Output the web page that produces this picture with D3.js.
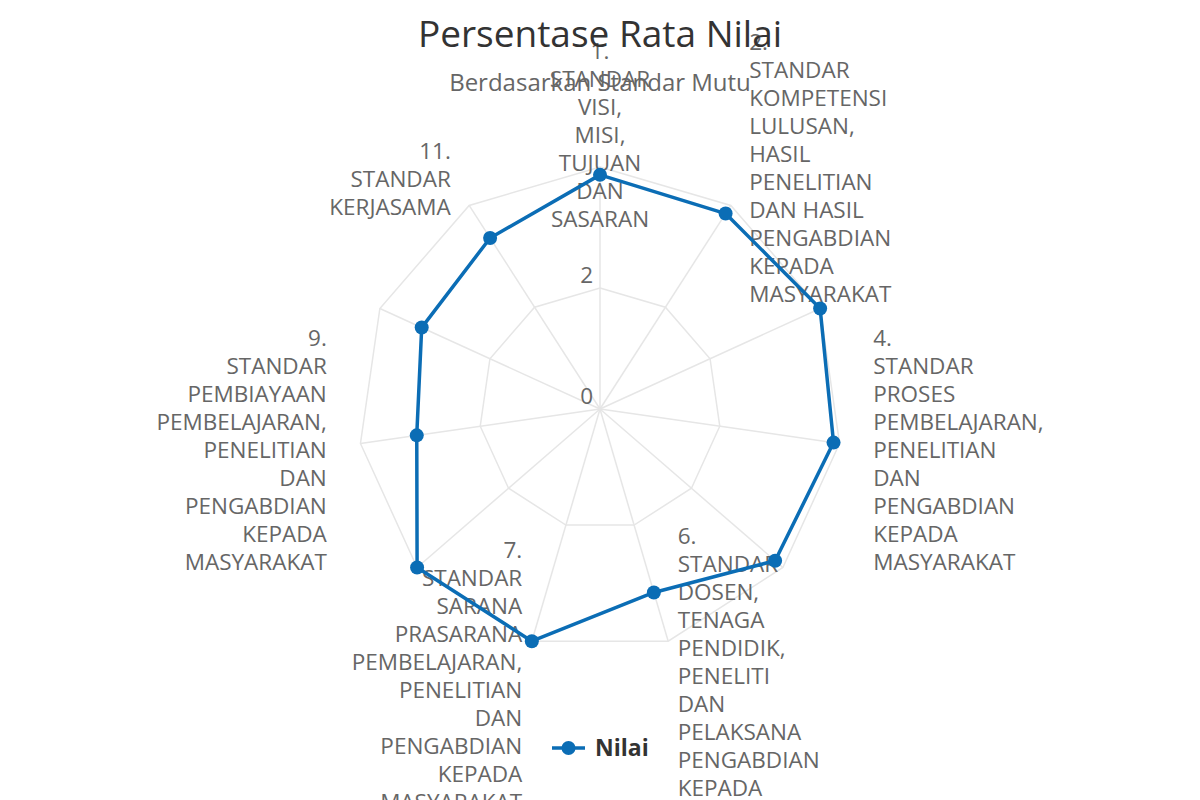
<!DOCTYPE html>
<html>
<head>
<meta charset="utf-8">
<script src="https://cdn.jsdelivr.net/npm/d3@7"></script>
<style>
  body { margin: 0; background: #fff; }
  text { font-family: "Open Sans", sans-serif; }
</style>
</head>
<body>
<script>
// chart data
var categories = [
  "1. STANDAR VISI, MISI, TUJUAN DAN SASARAN",
  "2. STANDAR KOMPETENSI LULUSAN, HASIL PENELITIAN DAN HASIL PENGABDIAN KEPADA MASYARAKAT",
  "3. STANDAR ISI PEMBELAJARAN, PENELITIAN DAN PENGABDIAN KEPADA MASYARAKAT",
  "4. STANDAR PROSES PEMBELAJARAN, PENELITIAN DAN PENGABDIAN KEPADA MASYARAKAT",
  "5. STANDAR PENILAIAN PEMBELAJARAN, PENELITIAN DAN PENGABDIAN KEPADA MASYARAKAT",
  "6. STANDAR DOSEN, TENAGA PENDIDIK, PENELITI DAN PELAKSANA PENGABDIAN KEPADA MASYARAKAT",
  "7. STANDAR SARANA PRASARANA PEMBELAJARAN, PENELITIAN DAN PENGABDIAN KEPADA MASYARAKAT",
  "8. STANDAR PENGELOLAAN PEMBELAJARAN, PENELITIAN DAN PENGABDIAN KEPADA MASYARAKAT",
  "9. STANDAR PEMBIAYAAN PEMBELAJARAN, PENELITIAN DAN PENGABDIAN KEPADA MASYARAKAT",
  "10. STANDAR TATA KELOLA",
  "11. STANDAR KERJASAMA"
];
var nilai = [3.87, 3.84, 4.0, 3.9, 3.83, 3.16, 4.0, 4.0, 3.06, 3.24, 3.36];
var yTicks = [0, 2];
var yMax = 4;
var seriesName = "Nilai";
var titleText = "Persentase Rata Nilai";
var subtitleText = "Berdasarkan Standar Mutu";

var width = 1200, height = 800;
var cx = 600, cy = 409, radius = 242;
var color = "#0b6db5";

var svg = d3.select("body").append("svg").attr("width", width).attr("height", height);

var r = d3.scaleLinear().domain([0, yMax]).range([0, radius]);
var angle = d3.scaleLinear().domain([0, categories.length]).range([0, 2 * Math.PI]);

var g = svg.append("g").attr("transform", "translate(" + cx + "," + cy + ")");

function px(i, v) { return r(v) * Math.sin(angle(i)); }
function py(i, v) { return -r(v) * Math.cos(angle(i)); }

// grid polygons
var rings = yTicks.filter(function(t){ return t > 0; }).concat([yMax]);
g.selectAll(".ring").data(rings).enter().append("path")
  .attr("d", function(t){
    return d3.lineRadial().angle(function(d, i){ return angle(i); }).radius(r(t)).curve(d3.curveLinearClosed)(categories);
  })
  .attr("fill", "none").attr("stroke", "#e6e6e6").attr("stroke-width", 1.5);

// spokes
g.selectAll(".spoke").data(categories).enter().append("line")
  .attr("x1", 0).attr("y1", 0)
  .attr("x2", function(d, i){ return px(i, yMax); })
  .attr("y2", function(d, i){ return py(i, yMax); })
  .attr("stroke", "#e6e6e6").attr("stroke-width", 1.5);

// y axis labels
g.selectAll(".ylab").data(yTicks).enter().append("text")
  .attr("x", -7).attr("y", function(t){ return -r(t) - 5; })
  .attr("text-anchor", "end").attr("font-size", 22.5).attr("fill", "#666")
  .text(function(t){ return t; });

// category labels
var labelDist = 34, lineH = 28;
var labelDy = [0, -11, 0, 0, 0, 0, 0, 0, 0, 0, 0];
var shown = [];
categories.forEach(function(name, i){
  var a = angle(i), s = Math.sin(a);
  var ax = (radius + labelDist) * s, ay = -(radius + labelDist) * Math.cos(a);
  var anchor = Math.abs(s) < 0.05 ? "middle" : (s > 0 ? "start" : "end");
  var wrapW = Math.abs(s) < 0.1 ? 90 : 118;
  var t = g.append("text").attr("font-size", 22.5).attr("fill", "#666").attr("text-anchor", anchor);
  var words = name.split(" "), lines = [], cur = "";
  var probe = t.append("tspan");
  words.forEach(function(w){
    var test = cur ? cur + " " + w : w;
    probe.text(test);
    if (cur && probe.node().getComputedTextLength() > wrapW) { lines.push(cur); cur = w; }
    else cur = test;
  });
  lines.push(cur);
  probe.remove();
  var top = ay - lines.length * lineH / 2 + labelDy[i];
  lines.forEach(function(l, k){
    t.append("tspan").attr("x", ax).attr("y", top + 24 + k * lineH).text(l);
  });
  var b = t.node().getBBox();
  var hit = shown.some(function(o){
    return b.x < o.x + o.width && o.x < b.x + b.width && b.y < o.y + o.height && o.y < b.y + b.height;
  });
  if (hit) t.remove(); else shown.push(b);
});

// series
var line = d3.lineRadial()
  .angle(function(d, i){ return angle(i); })
  .radius(function(d){ return r(d); })
  .curve(d3.curveLinearClosed);
g.append("path").attr("d", line(nilai))
  .attr("fill", "none").attr("stroke", color).attr("stroke-width", 3.5).attr("stroke-linejoin", "round");
g.selectAll(".pt").data(nilai).enter().append("circle")
  .attr("cx", function(d, i){ return px(i, d); })
  .attr("cy", function(d, i){ return py(i, d); })
  .attr("r", 7).attr("fill", color);

// title
svg.append("text").attr("x", 600).attr("y", 47).attr("text-anchor", "middle")
  .attr("font-size", 37).attr("fill", "#333").text(titleText);
svg.append("text").attr("x", 600).attr("y", 91).attr("text-anchor", "middle")
  .attr("font-size", 24).attr("fill", "#666").text(subtitleText);

// legend
var lg = svg.append("g").attr("transform", "translate(552,748)");
lg.append("line").attr("x1", 0).attr("x2", 33).attr("y1", 0).attr("y2", 0)
  .attr("stroke", color).attr("stroke-width", 3.5);
lg.append("circle").attr("cx", 16.5).attr("cy", 0).attr("r", 7).attr("fill", color);
lg.append("text").attr("x", 43).attr("y", 8).attr("font-size", 23).attr("font-weight", "bold")
  .attr("fill", "#333").text(seriesName);
</script>
</body>
</html>
